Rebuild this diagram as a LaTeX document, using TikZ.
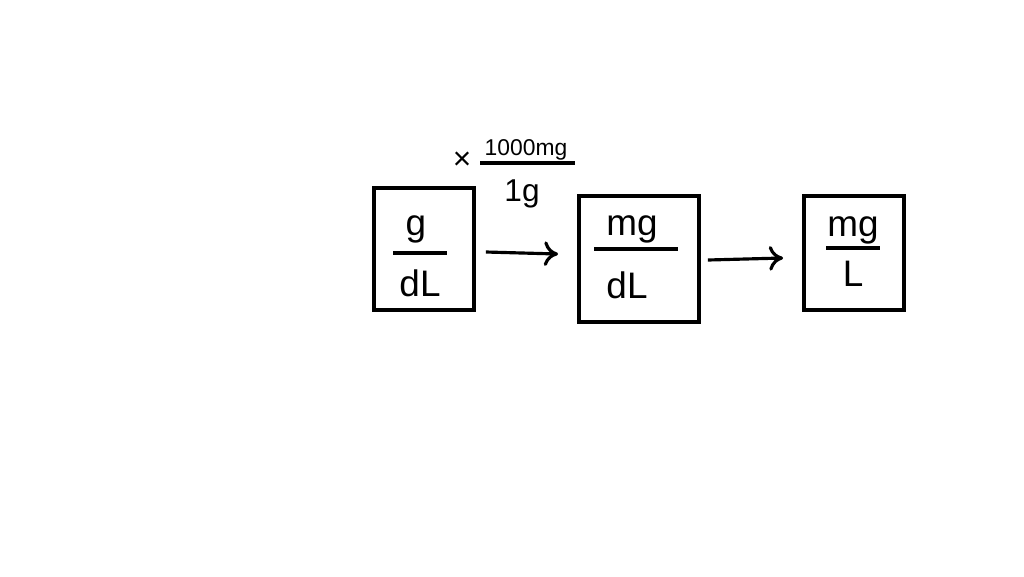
\documentclass[tikz,border=0pt]{standalone}
\usepackage{fontspec}
\setmainfont{Liberation Sans}
\usetikzlibrary{arrows.meta,calc}
\tikzset{
  box/.style={draw, line width=2.2pt, inner sep=0pt},
  conn/.style={-{To[length=8pt,width=14pt]}, line width=1.8pt},
  frac/.style={line width=1.8pt},
  txt/.style={inner sep=0pt, font=\fontsize{21}{24}\selectfont},
  small/.style={inner sep=0pt, font=\fontsize{13}{15}\selectfont}
}
\begin{document}
\begin{tikzpicture}[x=0.02cm,y=-0.02cm]
\useasboundingbox[fill=white] (0,0) rectangle (1024,576);
% boxes
\node[box, minimum width=100*0.02cm, minimum height=122*0.02cm] (b1) at (424,249) {};
\node[box, minimum width=120*0.02cm, minimum height=126*0.02cm] (b2) at (639,259) {};
\node[box, minimum width=100*0.02cm, minimum height=114*0.02cm] (b3) at (854,253) {};
% fractions
\node[txt] (n1) at (416,229) {g};
\node[txt] (d1) at (420,283) {dL};
\coordinate (l1a) at (393,253); \coordinate (l1b) at (447,253);
\draw[frac] (l1a) -- (l1b);
\node[txt] (n2) at (632,229) {mg};
\node[txt] (d2) at (627,285) {dL};
\coordinate (l2a) at (594,249); \coordinate (l2b) at (678,249);
\draw[frac] (l2a) -- (l2b);
\node[txt] (n3) at (853,230) {mg};
\node[txt] (d3) at (853,274) {L};
\coordinate (l3a) at (826,248); \coordinate (l3b) at (880,248);
\draw[frac] (l3a) -- (l3b);
% connectors
\draw[conn] ($(b1.east)+(10,3)$) -- ($(b2.west)+(-19,-5)$);
\draw[conn] ($(b2.east)+(7,1)$) -- ($(b3.west)+(-19,5)$);
% conversion factor
\node[txt, font=\fontsize{18}{20}\selectfont] (x) at (462,161) {×};
\node[small] (cn) at (526,150) {1000mg};
\node[txt, font=\fontsize{18}{20}\selectfont] (cd) at (522,194) {1g};
\coordinate (c1) at (480,163); \coordinate (c2) at (575,163);
\draw[frac] (c1) -- (c2);
\end{tikzpicture}
\end{document}
